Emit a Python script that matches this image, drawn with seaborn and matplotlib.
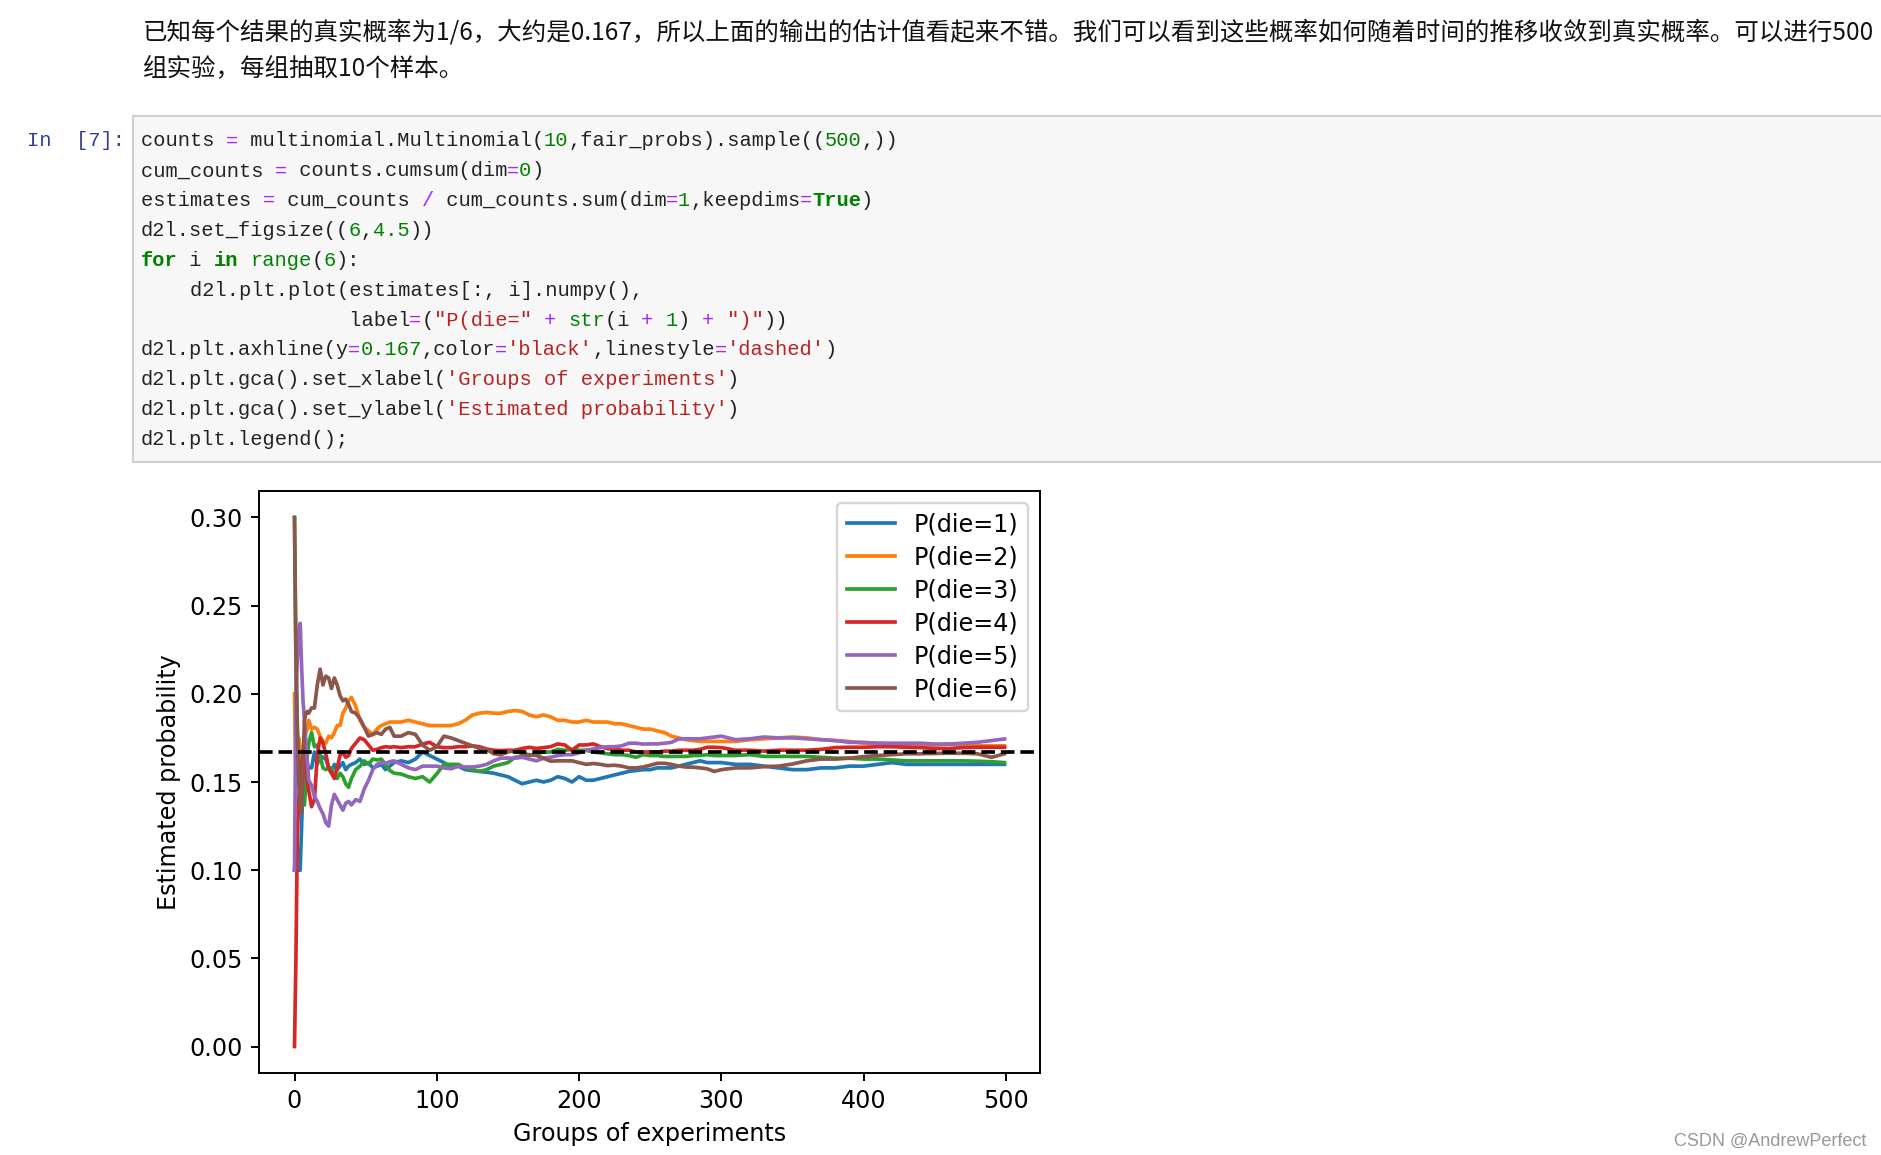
import matplotlib
matplotlib.use("Agg")
import matplotlib.pyplot as plt
import seaborn as sns
import pandas as pd
from matplotlib.patches import Rectangle

groups = ([0, 1, 2, 3, 4, 5, 6, 7, 8, 9, 10,
           12, 14, 16, 18, 20, 22, 24, 26, 28, 30, 32, 34, 36, 38, 40,
           43, 46, 49, 52, 55, 58, 61, 64, 67, 70,
           75, 80, 85, 90, 95, 100]
          + list(range(105, 301, 5)) + list(range(310, 491, 10)) + [499])

p_die1 = [0.100, 0.100, 0.100, 0.100, 0.100, 0.125, 0.150, 0.170, 0.165, 0.160, 0.158,
          0.158, 0.167, 0.160, 0.165, 0.164, 0.163, 0.158, 0.155, 0.160, 0.157, 0.159, 0.161, 0.157, 0.159, 0.160,
          0.161, 0.163, 0.160, 0.161, 0.158, 0.159, 0.160, 0.157, 0.159, 0.161,
          0.162, 0.161, 0.163, 0.167, 0.165, 0.163,
          0.161, 0.158, 0.159, 0.157, 0.1565, 0.156, 0.1555, 0.155, 0.154, 0.153, 0.151, 0.149, 0.150, 0.151,
          0.150, 0.151, 0.153, 0.152, 0.150, 0.153, 0.151, 0.151, 0.152, 0.153, 0.154, 0.155, 0.156, 0.1565,
          0.157, 0.157, 0.158, 0.158, 0.158, 0.159, 0.160, 0.161, 0.162, 0.161, 0.161, 0.161,
          0.160, 0.160, 0.159, 0.158, 0.157, 0.157, 0.158, 0.158, 0.159, 0.159, 0.160, 0.161, 0.160, 0.160,
          0.160, 0.160, 0.160, 0.160, 0.160, 0.160]
p_die2 = [0.200, 0.150, 0.167, 0.175, 0.160, 0.167, 0.171, 0.175, 0.178, 0.180, 0.185,
          0.180, 0.181, 0.180, 0.176, 0.173, 0.172, 0.176, 0.175, 0.178, 0.182, 0.182, 0.189, 0.192, 0.196, 0.198,
          0.193, 0.185, 0.181, 0.179, 0.177, 0.180, 0.182, 0.183, 0.184, 0.184,
          0.184, 0.185, 0.184, 0.183, 0.182, 0.182,
          0.182, 0.182, 0.183, 0.185, 0.188, 0.189, 0.1895, 0.189, 0.189, 0.190, 0.1905, 0.190, 0.188, 0.187,
          0.188, 0.187, 0.185, 0.185, 0.184, 0.184, 0.185, 0.184, 0.184, 0.184, 0.183, 0.183, 0.182, 0.181,
          0.180, 0.180, 0.179, 0.178, 0.176, 0.175, 0.174, 0.1735, 0.173, 0.173, 0.173, 0.173,
          0.173, 0.174, 0.1745, 0.175, 0.1755, 0.175, 0.174, 0.1735, 0.173, 0.172, 0.172, 0.1715, 0.171, 0.171,
          0.171, 0.1715, 0.171, 0.1705, 0.1705, 0.1705]
p_die3 = [0.300, 0.220, 0.180, 0.151, 0.145, 0.140, 0.138, 0.137, 0.150, 0.165, 0.172,
          0.178, 0.170, 0.171, 0.165, 0.158, 0.157, 0.158, 0.158, 0.153, 0.152, 0.155, 0.153, 0.149, 0.147, 0.152,
          0.157, 0.159, 0.162, 0.160, 0.163, 0.1625, 0.163, 0.160, 0.1565, 0.155,
          0.1545, 0.153, 0.152, 0.153, 0.150, 0.1546,
          0.160, 0.160, 0.160, 0.158, 0.157, 0.156, 0.157, 0.159, 0.160, 0.161, 0.164, 0.1645, 0.165, 0.166,
          0.167, 0.167, 0.1685, 0.168, 0.1685, 0.168, 0.168, 0.167, 0.1665, 0.166, 0.1655, 0.1655, 0.165, 0.164,
          0.1655, 0.165, 0.165, 0.1645, 0.1645, 0.1645, 0.1645, 0.165, 0.165, 0.1655, 0.165, 0.165,
          0.165, 0.1655, 0.1645, 0.1645, 0.1645, 0.1645, 0.164, 0.1635, 0.1635, 0.163, 0.163, 0.1625, 0.162, 0.162,
          0.162, 0.162, 0.162, 0.1618, 0.1615, 0.161]
p_die4 = [0.000, 0.050, 0.120, 0.140, 0.155, 0.160, 0.168, 0.165, 0.160, 0.150, 0.145,
          0.136, 0.140, 0.165, 0.175, 0.172, 0.166, 0.158, 0.155, 0.152, 0.158, 0.165, 0.167, 0.164, 0.165, 0.169,
          0.172, 0.175, 0.174, 0.171, 0.168, 0.1685, 0.1695, 0.170, 0.1697, 0.170,
          0.1695, 0.170, 0.170, 0.1715, 0.1725, 0.170,
          0.1695, 0.1695, 0.170, 0.170, 0.1705, 0.170, 0.1687, 0.168, 0.1678, 0.168, 0.168, 0.169, 0.1697, 0.169,
          0.1695, 0.170, 0.1716, 0.171, 0.168, 0.171, 0.171, 0.1716, 0.170, 0.169, 0.1685, 0.168, 0.168, 0.167,
          0.167, 0.167, 0.167, 0.1675, 0.1675, 0.168, 0.168, 0.168, 0.1685, 0.1697, 0.1697, 0.1695,
          0.168, 0.168, 0.1675, 0.168, 0.168, 0.168, 0.1685, 0.1695, 0.1697, 0.1697, 0.170, 0.170, 0.1697, 0.1695,
          0.169, 0.169, 0.1695, 0.1697, 0.1697, 0.1697]
p_die5 = [0.100, 0.200, 0.220, 0.235, 0.240, 0.215, 0.196, 0.185, 0.173, 0.162, 0.151,
          0.148, 0.142, 0.139, 0.135, 0.132, 0.127, 0.125, 0.137, 0.143, 0.140, 0.137, 0.134, 0.138, 0.139, 0.137,
          0.140, 0.139, 0.146, 0.151, 0.157, 0.160, 0.161, 0.1605, 0.1615, 0.162,
          0.160, 0.158, 0.157, 0.159, 0.159, 0.159,
          0.158, 0.1575, 0.159, 0.1585, 0.1585, 0.159, 0.160, 0.162, 0.1635, 0.1636, 0.1635, 0.164, 0.163, 0.162,
          0.1635, 0.164, 0.165, 0.1655, 0.1655, 0.1665, 0.168, 0.1687, 0.1695, 0.170, 0.170, 0.1705, 0.172, 0.172,
          0.1715, 0.1716, 0.1716, 0.172, 0.1725, 0.1744, 0.1745, 0.1745, 0.1745, 0.175, 0.1755, 0.176,
          0.174, 0.1745, 0.1755, 0.175, 0.175, 0.1745, 0.174, 0.1735, 0.1725, 0.1725, 0.172, 0.172, 0.172, 0.172,
          0.1715, 0.1715, 0.172, 0.1725, 0.1735, 0.1744]
p_die6 = [0.300, 0.220, 0.180, 0.150, 0.136, 0.133, 0.160, 0.185, 0.189, 0.190, 0.189,
          0.192, 0.192, 0.205, 0.214, 0.205, 0.210, 0.209, 0.203, 0.209, 0.205, 0.199, 0.196, 0.197, 0.194, 0.190,
          0.189, 0.186, 0.181, 0.176, 0.177, 0.178, 0.177, 0.180, 0.181, 0.176,
          0.176, 0.178, 0.177, 0.171, 0.168, 0.170,
          0.176, 0.175, 0.1735, 0.172, 0.1705, 0.169, 0.1685, 0.166, 0.1655, 0.167, 0.1678, 0.166, 0.1655, 0.165,
          0.1635, 0.1618, 0.162, 0.162, 0.162, 0.161, 0.160, 0.1605, 0.160, 0.1593, 0.1595, 0.159, 0.158, 0.158,
          0.1585, 0.1595, 0.1606, 0.1606, 0.160, 0.159, 0.1585, 0.1584, 0.158, 0.1575, 0.156, 0.157,
          0.158, 0.158, 0.1587, 0.159, 0.1602, 0.162, 0.163, 0.163, 0.1635, 0.1644, 0.165, 0.1655, 0.166, 0.166,
          0.1662, 0.1663, 0.1663, 0.166, 0.164, 0.166]

labels = ["P(die=1)", "P(die=2)", "P(die=3)", "P(die=4)", "P(die=5)", "P(die=6)"]
series = [p_die1, p_die2, p_die3, p_die4, p_die5, p_die6]
true_prob = 0.167

# chart scale: the screenshot was taken at a larger zoom than matplotlib default
plt.rcParams.update({
    "font.size": 11,
    "axes.linewidth": 0.9,
    "xtick.major.width": 0.9, "ytick.major.width": 0.9,
    "xtick.major.size": 3.9, "ytick.major.size": 3.9,
    "lines.linewidth": 1.7,
    "patch.linewidth": 1.1,
})

W, H, DPI = 1881, 1155, 156
fig = plt.figure(figsize=(W / DPI, H / DPI), dpi=DPI)
fig.patch.set_facecolor("white")


def fx(px):
    return px / W


def fy(py):
    return 1 - py / H


# notebook markdown text above the cell
cjk = ["Noto Sans CJK SC", "DejaVu Sans"]
fig.text(fx(143), fy(33), "已知每个结果的真实概率为1/6，大约是0.167，所以上面的输出的估计值看起来不错。我们可以看到这些概率如何随着时间的推移收敛到真实概率。可以进行500",
         family=cjk, fontsize=11.3, va="center", ha="left", color="#111111")
fig.text(fx(143), fy(68), "组实验，每组抽取10个样本。",
         family=cjk, fontsize=11.3, va="center", ha="left", color="#111111")

# code cell
fig.patches.append(Rectangle((fx(133), fy(462)), fx(1800), 346 / H, transform=fig.transFigure,
                             facecolor="#f7f7f7", edgecolor="#cfcfcf", linewidth=1.0))
fig.text(fx(27), fy(141), "In  [7]:", family="Liberation Mono", fontsize=9.4,
         color="#303F9F", va="center", ha="left")

P, G, R, K = "#AA22FF", "#008000", "#BA2121", "#222222"
code = [
    [("counts ", K), ("=", P), (" multinomial.Multinomial(", K), ("10", G), (",fair_probs).sample((", K), ("500", G), (",))", K)],
    [("cum_counts ", K), ("=", P), (" counts.cumsum(dim", K), ("=", P), ("0", G), (")", K)],
    [("estimates ", K), ("=", P), (" cum_counts ", K), ("/", P), (" cum_counts.sum(dim", K), ("=", P), ("1", G),
     (",keepdims", K), ("=", P), ("True", G + "b"), (")", K)],
    [("d2l.set_figsize((", K), ("6", G), (",", K), ("4.5", G), ("))", K)],
    [("for", G + "b"), (" i ", K), ("in", G + "b"), (" ", K), ("range", G), ("(", K), ("6", G), ("):", K)],
    [("    d2l.plt.plot(estimates[:, i].numpy(),", K)],
    [("                 label", K), ("=", P), ("(", K), ('"P(die="', R), (" ", K), ("+", P), (" ", K), ("str", G),
     ("(i ", K), ("+", P), (" ", K), ("1", G), (") ", K), ("+", P), (" ", K), ('")"', R), ("))", K)],
    [("d2l.plt.axhline(y", K), ("=", P), ("0.167", G), (",color", K), ("=", P), ("'black'", R),
     (",linestyle", K), ("=", P), ("'dashed'", R), (")", K)],
    [("d2l.plt.gca().set_xlabel(", K), ("'Groups of experiments'", R), (")", K)],
    [("d2l.plt.gca().set_ylabel(", K), ("'Estimated probability'", R), (")", K)],
    [("d2l.plt.legend();", K)],
]
cw = 12.21
for li, toks in enumerate(code):
    col = 0
    y = 141 + li * 29.85
    for txt, c in toks:
        bold = c.endswith("b")
        fig.text(fx(140.6 + col * cw), fy(y), txt, family="Liberation Mono", fontsize=9.4,
                 color=c.rstrip("b"), weight="bold" if bold else "normal", va="center", ha="left")
        col += len(txt)

# the chart
ax = fig.add_axes([fx(259), fy(1073), 781 / W, 582 / H])
colors = sns.color_palette("tab10", 6)
for vals, lab, col in zip(series, labels, colors):
    sns.lineplot(x=groups, y=vals, ax=ax, label=lab, color=col)
ax.axhline(y=true_prob, color="black", linestyle="dashed")
ax.set_xlabel("Groups of experiments")
ax.set_ylabel("Estimated probability")
ax.set_xlim(-24.95, 523.95)
ax.set_ylim(-0.015, 0.315)
ax.set_xticks([0, 100, 200, 300, 400, 500])
ax.set_yticks([0.0, 0.05, 0.10, 0.15, 0.20, 0.25, 0.30])
ax.yaxis.set_major_formatter(matplotlib.ticker.FormatStrFormatter("%.2f"))
ax.legend(loc="upper right", labelspacing=0.38)

fig.text(fx(1866), fy(1141), "CSDN @AndrewPerfect", family="Liberation Sans", fontsize=8.3,
         color="#999999", ha="right", va="center")

fig.savefig("out.png", dpi=DPI)
